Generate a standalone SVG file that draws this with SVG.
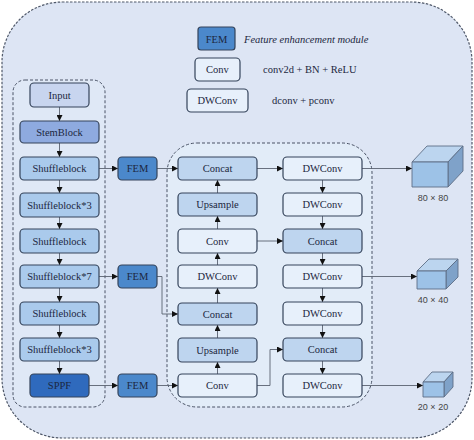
<svg xmlns="http://www.w3.org/2000/svg" width="474" height="440" viewBox="0 0 474 440">
<defs>
<style>
.frame{fill:#dde5f4;stroke:#4f5869;stroke-width:1.2;stroke-dasharray:2.5,1.5}
.cont{stroke:#4a5366;stroke-width:1;stroke-dasharray:3,2}
.n rect{stroke:#34435a;stroke-width:1.2}
.n text{font-family:"Liberation Serif","Times New Roman",serif;font-size:10.5px;fill:#1c2740;text-anchor:middle}
.inp{fill:#c8d5ef}
.stem{fill:#8eaadf}
.sb{fill:#aacaec}
.sppf{fill:#2f6abd}
.fem{fill:#4b88cb}
.blue{fill:#bed5ef}
.light{fill:#e7f0fb}
.c path,.c line,.c polyline{fill:none;stroke:#5a6270;stroke-width:0.9}
.leg{font-family:"Liberation Serif","Times New Roman",serif;font-size:10.5px;fill:#1c2740}
.cube polygon{stroke:#5d6e86;stroke-width:0.9}
.top{fill:#bcd5ef}
.front{fill:#9dc2e7}
.side{fill:#7fa2c9}
.cl{font-family:"Liberation Sans",Arial,sans-serif;font-size:9px;fill:#444;text-anchor:middle}
</style>
<marker id="ah" markerWidth="6" markerHeight="6" refX="6" refY="3" orient="auto" markerUnits="userSpaceOnUse">
<path d="M0,0 L6,3 L0,6 z" fill="#111"/>
</marker>
</defs>

<rect class="frame" x="2" y="2" width="470" height="436" rx="60" ry="60"/>
<rect class="cont" x="13" y="80" width="92" height="327" rx="12" fill="#dfe8f6"/>
<rect class="cont" x="167" y="143" width="205" height="264" rx="30" fill="#e2ecf8"/>

<g id="legend">
<g id="leg-fem" class="n"><rect class="fem" x="198" y="27" width="37" height="23" rx="3"/><text x="216.5" y="42.5">FEM</text></g>
<text class="leg" x="244" y="42.5" font-style="italic">Feature enhancement module</text>
<g id="leg-conv" class="n"><rect class="light" x="195" y="58" width="45" height="23" rx="4"/><text x="217.5" y="73">Conv</text></g>
<text class="leg" x="263" y="73">conv2d + BN + ReLU</text>
<g id="leg-dwconv" class="n"><rect class="light" x="187" y="89" width="61" height="23" rx="4"/><text x="217.5" y="104">DWConv</text></g>
<text class="leg" x="272" y="104">dconv + pconv</text>
</g>

<g id="connectors" class="c">
<line x1="59.5" y1="107" x2="59.5" y2="121" marker-end="url(#ah)"/>
<line x1="59.5" y1="143" x2="59.5" y2="157" marker-end="url(#ah)"/>
<line x1="59.5" y1="180" x2="59.5" y2="193" marker-end="url(#ah)"/>
<line x1="59.5" y1="217" x2="59.5" y2="229" marker-end="url(#ah)"/>
<line x1="59.5" y1="253" x2="59.5" y2="265" marker-end="url(#ah)"/>
<line x1="59.5" y1="288" x2="59.5" y2="302" marker-end="url(#ah)"/>
<line x1="59.5" y1="325" x2="59.5" y2="338" marker-end="url(#ah)"/>
<line x1="59.5" y1="361" x2="59.5" y2="374" marker-end="url(#ah)"/>
<line x1="99" y1="168.5" x2="118" y2="168.5" marker-end="url(#ah)"/>
<line x1="99" y1="276.5" x2="118" y2="276.5" marker-end="url(#ah)"/>
<line x1="89" y1="385.5" x2="118" y2="385.5" marker-end="url(#ah)"/>
<line x1="157" y1="168.5" x2="178" y2="168.5" marker-end="url(#ah)"/>
<polyline points="157,276.5 162,276.5 162,314 178,314" marker-end="url(#ah)"/>
<line x1="157" y1="385.5" x2="178" y2="385.5" marker-end="url(#ah)"/>
<line x1="217.5" y1="193" x2="217.5" y2="180" marker-end="url(#ah)"/>
<line x1="217.5" y1="229" x2="217.5" y2="216" marker-end="url(#ah)"/>
<line x1="217.5" y1="265" x2="217.5" y2="253" marker-end="url(#ah)"/>
<line x1="217.5" y1="303" x2="217.5" y2="288" marker-end="url(#ah)"/>
<line x1="217.5" y1="338" x2="217.5" y2="325" marker-end="url(#ah)"/>
<line x1="217.5" y1="374" x2="217.5" y2="362" marker-end="url(#ah)"/>
<line x1="322.5" y1="180" x2="322.5" y2="193" marker-end="url(#ah)"/>
<line x1="322.5" y1="216" x2="322.5" y2="229" marker-end="url(#ah)"/>
<line x1="322.5" y1="253" x2="322.5" y2="265" marker-end="url(#ah)"/>
<line x1="322.5" y1="288" x2="322.5" y2="302" marker-end="url(#ah)"/>
<line x1="322.5" y1="325" x2="322.5" y2="338" marker-end="url(#ah)"/>
<line x1="322.5" y1="361" x2="322.5" y2="374" marker-end="url(#ah)"/>
<line x1="257" y1="168.5" x2="283" y2="168.5" marker-end="url(#ah)"/>
<line x1="257" y1="241" x2="283" y2="241" marker-end="url(#ah)"/>
<polyline points="257,385.5 270,385.5 270,349.5 283,349.5" marker-end="url(#ah)"/>
<line x1="362" y1="168.5" x2="412" y2="168.5" marker-end="url(#ah)"/>
<line x1="362" y1="276.5" x2="417" y2="276.5" marker-end="url(#ah)"/>
<line x1="362" y1="385.5" x2="423" y2="385.5" marker-end="url(#ah)"/>
</g>

<g id="input" class="n"><rect class="inp" x="30" y="83" width="59" height="24" rx="4"/><text x="59.5" y="98.5">Input</text></g>
<g id="stemblock" class="n"><rect class="stem" x="20" y="121" width="79" height="22" rx="4"/><text x="59.5" y="135.5">StemBlock</text></g>
<g id="sb1" class="n"><rect class="sb" x="20" y="157" width="79" height="23" rx="4"/><text x="59.5" y="172" font-size="10">Shuffleblock</text></g>
<g id="sb2" class="n"><rect class="sb" x="20" y="193" width="79" height="24" rx="4"/><text x="59.5" y="208.5" font-size="10">Shuffleblock*3</text></g>
<g id="sb3" class="n"><rect class="sb" x="20" y="229" width="79" height="24" rx="4"/><text x="59.5" y="244.5" font-size="10">Shuffleblock</text></g>
<g id="sb4" class="n"><rect class="sb" x="20" y="265" width="79" height="23" rx="4"/><text x="59.5" y="280" font-size="10">Shuffleblock*7</text></g>
<g id="sb5" class="n"><rect class="sb" x="20" y="302" width="79" height="23" rx="4"/><text x="59.5" y="317" font-size="10">Shuffleblock</text></g>
<g id="sb6" class="n"><rect class="sb" x="20" y="338" width="79" height="23" rx="4"/><text x="59.5" y="353" font-size="10">Shuffleblock*3</text></g>
<g id="sppf" class="n"><rect class="sppf" x="30" y="374" width="59" height="23" rx="4"/><text x="59.5" y="389">SPPF</text></g>

<g id="fem1" class="n"><rect class="fem" x="118" y="157" width="39" height="23" rx="4"/><text x="137.5" y="172">FEM</text></g>
<g id="fem2" class="n"><rect class="fem" x="118" y="265" width="39" height="23" rx="4"/><text x="137.5" y="280">FEM</text></g>
<g id="fem3" class="n"><rect class="fem" x="118" y="374" width="39" height="23" rx="4"/><text x="137.5" y="389">FEM</text></g>

<g id="l-concat1" class="n"><rect class="blue" x="178" y="157" width="79" height="23" rx="4"/><text x="217.5" y="172">Concat</text></g>
<g id="l-upsample1" class="n"><rect class="blue" x="178" y="193" width="79" height="23" rx="4"/><text x="217.5" y="208">Upsample</text></g>
<g id="l-conv1" class="n"><rect class="light" x="178" y="229" width="79" height="24" rx="4"/><text x="217.5" y="244.5">Conv</text></g>
<g id="l-dwconv" class="n"><rect class="light" x="178" y="265" width="79" height="23" rx="4"/><text x="217.5" y="280">DWConv</text></g>
<g id="l-concat2" class="n"><rect class="blue" x="178" y="303" width="79" height="22" rx="4"/><text x="217.5" y="317.5">Concat</text></g>
<g id="l-upsample2" class="n"><rect class="blue" x="178" y="338" width="79" height="24" rx="4"/><text x="217.5" y="353.5">Upsample</text></g>
<g id="l-conv2" class="n"><rect class="light" x="178" y="374" width="79" height="23" rx="4"/><text x="217.5" y="389">Conv</text></g>

<g id="r-dwconv1" class="n"><rect class="light" x="283" y="157" width="79" height="23" rx="4"/><text x="322.5" y="172">DWConv</text></g>
<g id="r-dwconv2" class="n"><rect class="light" x="283" y="193" width="79" height="23" rx="4"/><text x="322.5" y="208">DWConv</text></g>
<g id="r-concat1" class="n"><rect class="blue" x="283" y="229" width="79" height="24" rx="4"/><text x="322.5" y="244.5">Concat</text></g>
<g id="r-dwconv3" class="n"><rect class="light" x="283" y="265" width="79" height="23" rx="4"/><text x="322.5" y="280">DWConv</text></g>
<g id="r-dwconv4" class="n"><rect class="light" x="283" y="302" width="79" height="23" rx="4"/><text x="322.5" y="317">DWConv</text></g>
<g id="r-concat2" class="n"><rect class="blue" x="283" y="338" width="79" height="23" rx="4"/><text x="322.5" y="353">Concat</text></g>
<g id="r-dwconv5" class="n"><rect class="light" x="283" y="374" width="79" height="23" rx="4"/><text x="322.5" y="389">DWConv</text></g>

<g id="cube80" class="cube">
<polygon class="top" points="412,162 427,146 463,146 448,162"/>
<polygon class="side" points="448,162 463,146 463,171 448,187"/>
<polygon class="front" points="412,162 448,162 448,187 412,187"/>
<text class="cl" x="433" y="200.5">80 × 80</text>
</g>
<g id="cube40" class="cube">
<polygon class="top" points="417,271 429,259 458,259 446,271"/>
<polygon class="side" points="446,271 458,259 458,277 446,289"/>
<polygon class="front" points="417,271 446,271 446,289 417,289"/>
<text class="cl" x="433" y="303">40 × 40</text>
</g>
<g id="cube20" class="cube">
<polygon class="top" points="423,382 432,372 453,372 444,382"/>
<polygon class="side" points="444,382 453,372 453,387 444,397"/>
<polygon class="front" points="423,382 444,382 444,397 423,397"/>
<text class="cl" x="433" y="410">20 × 20</text>
</g>
</svg>
